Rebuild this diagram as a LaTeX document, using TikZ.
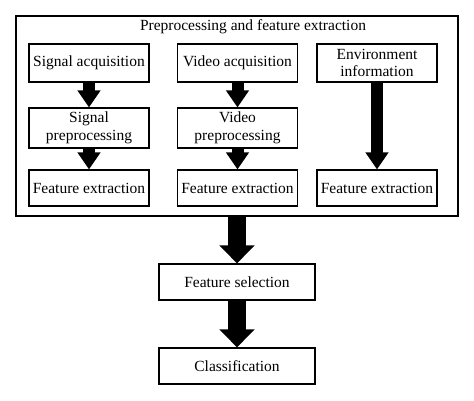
\documentclass[tikz,border=0pt]{standalone}
\usepackage{fontspec}
\setmainfont{Liberation Serif}
\usetikzlibrary{arrows.meta, positioning}

\tikzset{
    stage/.style={draw, line width=1.1pt, fill=white, minimum width=120pt, minimum height=38pt, align=center, inner sep=1pt, font=\fontsize{15.5}{17.5}\selectfont},
    bigstage/.style={stage, minimum width=156pt, minimum height=36pt},
    flow/.style={line width=12pt, -{Triangle[width=22pt, length=17pt]}, shorten <=-1pt},
    bigflow/.style={line width=18pt, -{Triangle[width=34pt, length=18pt]}, shorten <=-1pt}
}

\begin{document}
\begin{tikzpicture}[x=1pt, y=-1pt]
    \useasboundingbox (0, 0) rectangle (474, 401);
    % outer frame and its title
    \node[draw, line width=1.1pt, minimum width=442pt, minimum height=200pt, inner sep=0pt] (pre) at (237, 116) {};
    \node[font=\fontsize{15.5}{17.5}\selectfont] (title) at (253, 27) {Preprocessing and feature extraction};
    % signal column
    \node[stage] (sig1) at (89, 63) {Signal acquisition};
    \node[stage, minimum height=40pt] (sig2) at (89, 128) {Signal\\preprocessing};
    \node[stage, minimum height=36pt] (sig3) at (89, 188) {Feature extraction};
    % video column
    \node[stage] (vid1) at (237.5, 63) {Video acquisition};
    \node[stage, minimum height=40pt] (vid2) at (237.5, 128) {Video\\preprocessing};
    \node[stage, minimum height=36pt] (vid3) at (237.5, 188) {Feature extraction};
    % environment column
    \node[stage] (env1) at (377, 63) {Environment\\information};
    \node[stage, minimum height=36pt] (env3) at (377, 188) {Feature extraction};
    % common stages
    \node[bigstage] (sel) at (237, 282) {Feature selection};
    \node[bigstage] (cls) at (237, 366) {Classification};
    \draw
    (sig1) edge[flow] (sig2)
    (sig2) edge[flow] (sig3)
    (vid1) edge[flow] (vid2)
    (vid2) edge[flow] (vid3)
    (env1) edge[flow] (env3)
    (pre.south) edge[bigflow] (sel)
    (sel) edge[bigflow] (cls);
\end{tikzpicture}
\end{document}
